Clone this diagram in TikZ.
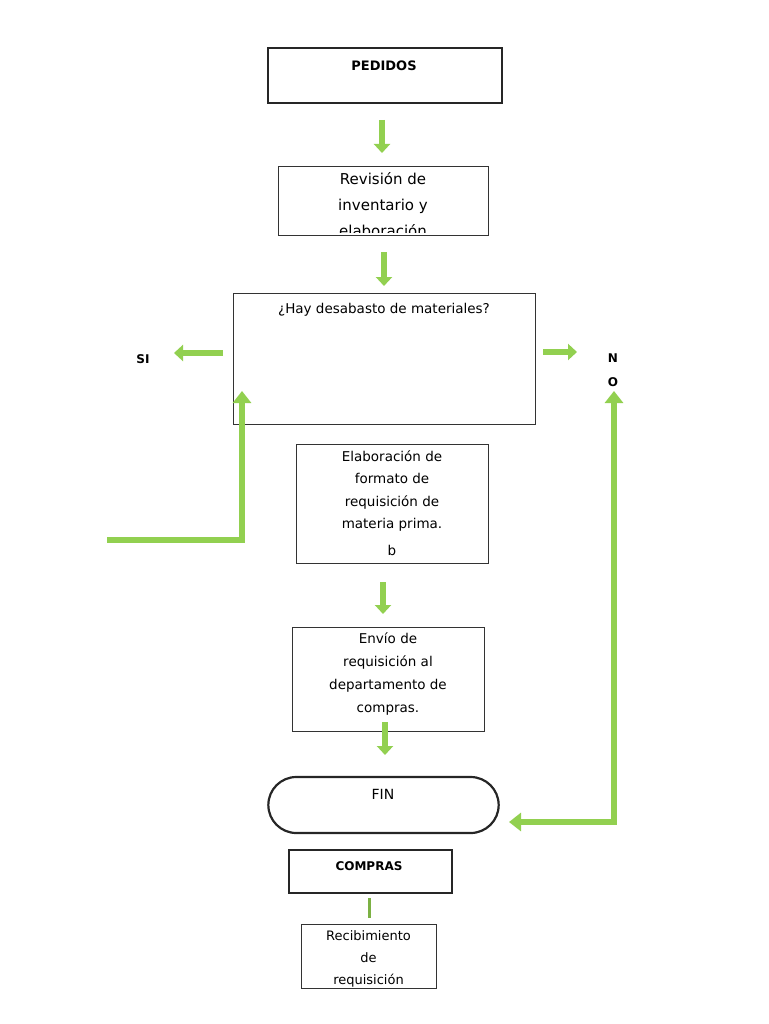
\documentclass[tikz,border=0pt]{standalone}
\usepackage{fontspec}
\setmainfont{DejaVu Sans}
\usetikzlibrary{arrows.meta,shapes.misc}
\definecolor{gr}{RGB}{146,208,80}
\begin{document}
\begin{tikzpicture}[x=1pt,y=-1pt,
  box/.style={draw=black!80,line width=1pt},
  tbox/.style={draw=black!85,line width=2.2pt},
  garr/.style={draw=gr,line width=6pt,-{Triangle[length=9pt,width=16pt]}},
  gpath/.style={draw=gr,line width=6pt,-{Triangle[length=12pt,width=18pt]}},
  txt/.style={font=\fontsize{13.5}{16}\selectfont,align=center,inner sep=0pt}]
\useasboundingbox (0,0) rectangle (768,1024);
% PEDIDOS
\node[tbox,minimum width=234pt,minimum height=55pt,anchor=north west] (ped) at (267,47) {};
\node[font=\bfseries\fontsize{13}{15}\selectfont] (pedt) at (384,66) {PEDIDOS};
% Revision
\node[box,minimum width=210pt,minimum height=69pt,anchor=north west] (rev) at (278,166) {};
\begin{scope}\clip (278,166) rectangle (488,233);
\node[txt,font=\fontsize{15}{26}\selectfont,anchor=north] (revt) at (383,172) {Revisión de\\inventario y\\elaboración};
\end{scope}
% big box
\node[box,minimum width=302pt,minimum height=131pt,anchor=north west] (hay) at (233,293) {};
\node[txt] (hayt) at (384,310) {¿Hay desabasto de materiales?};
\node[font=\bfseries\fontsize{12}{14}\selectfont] (si) at (143,359) {SI};
\node[font=\bfseries\fontsize{12}{24}\selectfont,align=center] (no) at (613,370) {N\\O};
% Elaboracion
\node[box,minimum width=192pt,minimum height=119pt,anchor=north west] (ela) at (296,444) {};
\begin{scope}\clip (296,444) rectangle (488,561);
\node[txt,font=\fontsize{13.5}{22.5}\selectfont,anchor=north] (elat) at (392,450) {Elaboración de\\formato de\\requisición de\\materia prima.\\[4pt]b};
\end{scope}
% Envio
\node[box,minimum width=192pt,minimum height=104pt,anchor=north west] (env) at (292,627) {};
\node[txt,font=\fontsize{13.5}{23}\selectfont,anchor=north] (envt) at (388,632) {Envío de\\requisición al\\departamento de\\compras.};
% FIN
\node[tbox,rounded rectangle,minimum width=237pt,minimum height=56pt] (fin) at (383.5,805) {};
\node[txt,font=\fontsize{14}{16}\selectfont] (fint) at (383,794) {FIN};
% COMPRAS
\node[tbox,line width=1.8pt,minimum width=163pt,minimum height=43pt,anchor=north west] (com) at (288,849) {};
\node[font=\bfseries\fontsize{12}{14}\selectfont] (comt) at (369,866) {COMPRAS};
% Recibimiento
\node[box,minimum width=135pt,minimum height=64pt,anchor=north west] (rec) at (301,924) {};
\begin{scope}\clip (301,924) rectangle (436,986);
\node[txt,font=\fontsize{13}{22}\selectfont,anchor=north] (rect) at (368.5,930) {Recibimiento\\de\\requisición};
\end{scope}
% arrows
\coordinate (a1) at (382,120); \coordinate (a1e) at (382,153);
\draw[garr] (a1) -- (a1e);
\coordinate (a2) at (384,252); \coordinate (a2e) at (384,286);
\draw[garr] (a2) -- (a2e);
\coordinate (a3) at (223,353); \coordinate (a3e) at (174,353);
\draw[garr] (a3) -- (a3e);
\coordinate (a4) at (543,352); \coordinate (a4e) at (577,352);
\draw[garr] (a4) -- (a4e);
\coordinate (a5) at (383,582); \coordinate (a5e) at (383,614);
\draw[garr] (a5) -- (a5e);
\coordinate (a6) at (385,722); \coordinate (a6e) at (385,755);
\draw[garr] (a6) -- (a6e);
\coordinate (l1) at (107,540); \coordinate (l2) at (242,540); \coordinate (l3) at (242,391);
\draw[gpath] (l1) -- (l2) -- (l3);
\coordinate (r1) at (614,391); \coordinate (r2) at (614,822); \coordinate (r3) at (509,822);
\draw[gpath,{Triangle[length=12pt,width=18pt]}-{Triangle[length=12pt,width=18pt]}] (r1) -- (r2) -- (r3);
\coordinate (s1) at (369,898); \coordinate (s2) at (369,918);
\draw[gr!85!black,line width=3pt] (s1) -- (s2);
\end{tikzpicture}
\end{document}
